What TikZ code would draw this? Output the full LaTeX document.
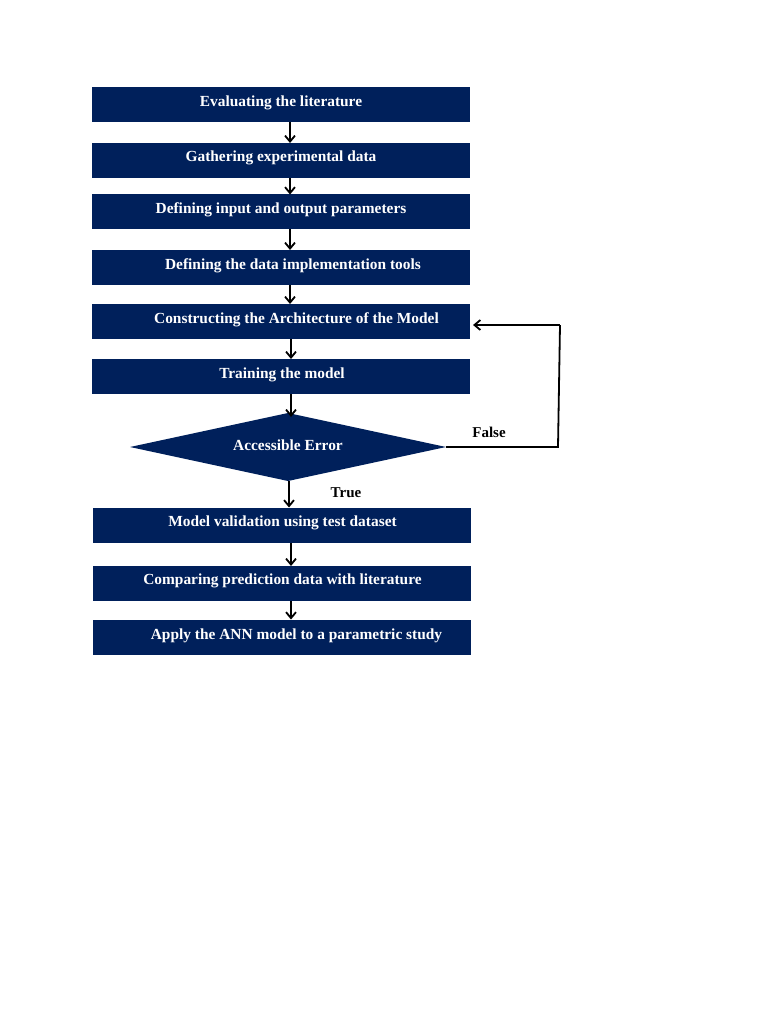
\documentclass[tikz,border=0pt]{standalone}
\usepackage{fontspec}
\setmainfont{Liberation Serif}
\usetikzlibrary{shapes.geometric,arrows.meta}
\definecolor{navy}{RGB}{0,32,91}
\begin{document}
\begin{tikzpicture}[x=1pt,y=-1pt,
  box/.style={fill=navy,draw=none,minimum width=378pt,minimum height=35pt,inner sep=0pt,outer sep=0pt},
  lbl/.style={text=white,font=\bfseries\fontsize{15.4}{17}\selectfont,inner sep=0pt,yshift=-2pt},
  blbl/.style={text=black,font=\bfseries\fontsize{15}{17}\selectfont,inner sep=0pt,yshift=-1pt},
  arr/.style={draw=black,line width=1.8pt,-{Straight Barb[length=6pt,width=10pt]}},
  ln/.style={draw=black,line width=1.8pt}]
\useasboundingbox (0,0) rectangle (768,1024);
\node[box] (b1) at (281,104.5) {};
\node[lbl] at (281,101) {Evaluating the literature};
\node[box] (b2) at (281,160.5) {};
\node[lbl] at (281,156) {Gathering experimental data};
\node[box] (b3) at (281,212) {};
\node[lbl] at (281,208) {Defining input and output parameters};
\node[box] (b4) at (281,267.5) {};
\node[lbl] at (293,264) {Defining the data implementation tools};
\node[box] (b5) at (281,321.5) {};
\node[lbl] at (296.5,318) {Constructing the Architecture of the Model};
\node[box] (b6) at (281,376.5) {};
\node[lbl] at (282,373) {Training the model};
\fill[navy] (130,447) -- (288,413) -- (446,447) -- (288,481) -- cycle;
\coordinate (dtop) at (288,413);
\coordinate (dbot) at (289,481);
\coordinate (dright) at (446,447);
\node[lbl] at (288,443) {Accessible Error};
\node[box,minimum width=378pt] (b7) at (282,525) {};
\node[lbl] at (282.5,521) {Model validation using test dataset};
\node[box] (b8) at (282,583.5) {};
\node[lbl] at (282.5,579) {Comparing prediction data with literature};
\node[box] (b9) at (282,637) {};
\node[lbl] at (296.5,634) {Apply the ANN model to a parametric study};
\node[blbl] (fl) at (489,431) {False};
\node[blbl] (tl) at (346,492) {True};
\draw[arr] (b1.south -| 290,0) -- (b2.north -| 290,0);
\draw[arr] (b2.south -| 290,0) -- (b3.north -| 290,0);
\draw[arr] (b3.south -| 290,0) -- (b4.north -| 290,0);
\draw[arr] (b4.south -| 290,0) -- (b5.north -| 290,0);
\draw[arr] (b5.south -| 291,0) -- (b6.north -| 291,0);
\draw[arr] (b6.south -| 291,0) -- (291,417);
\draw[arr] (dbot) -- (b7.north -| 289,0);
\draw[arr] (b7.south -| 291,0) -- (b8.north -| 291,0);
\draw[arr] (b8.south -| 291,0) -- (b9.north -| 291,0);
\coordinate (c1) at (558,447);
\coordinate (c2) at (560,325);
\draw[ln] (dright) -- (c1) -- (c2);
\draw[arr] (c2) -- (473,325);
\end{tikzpicture}
\end{document}
